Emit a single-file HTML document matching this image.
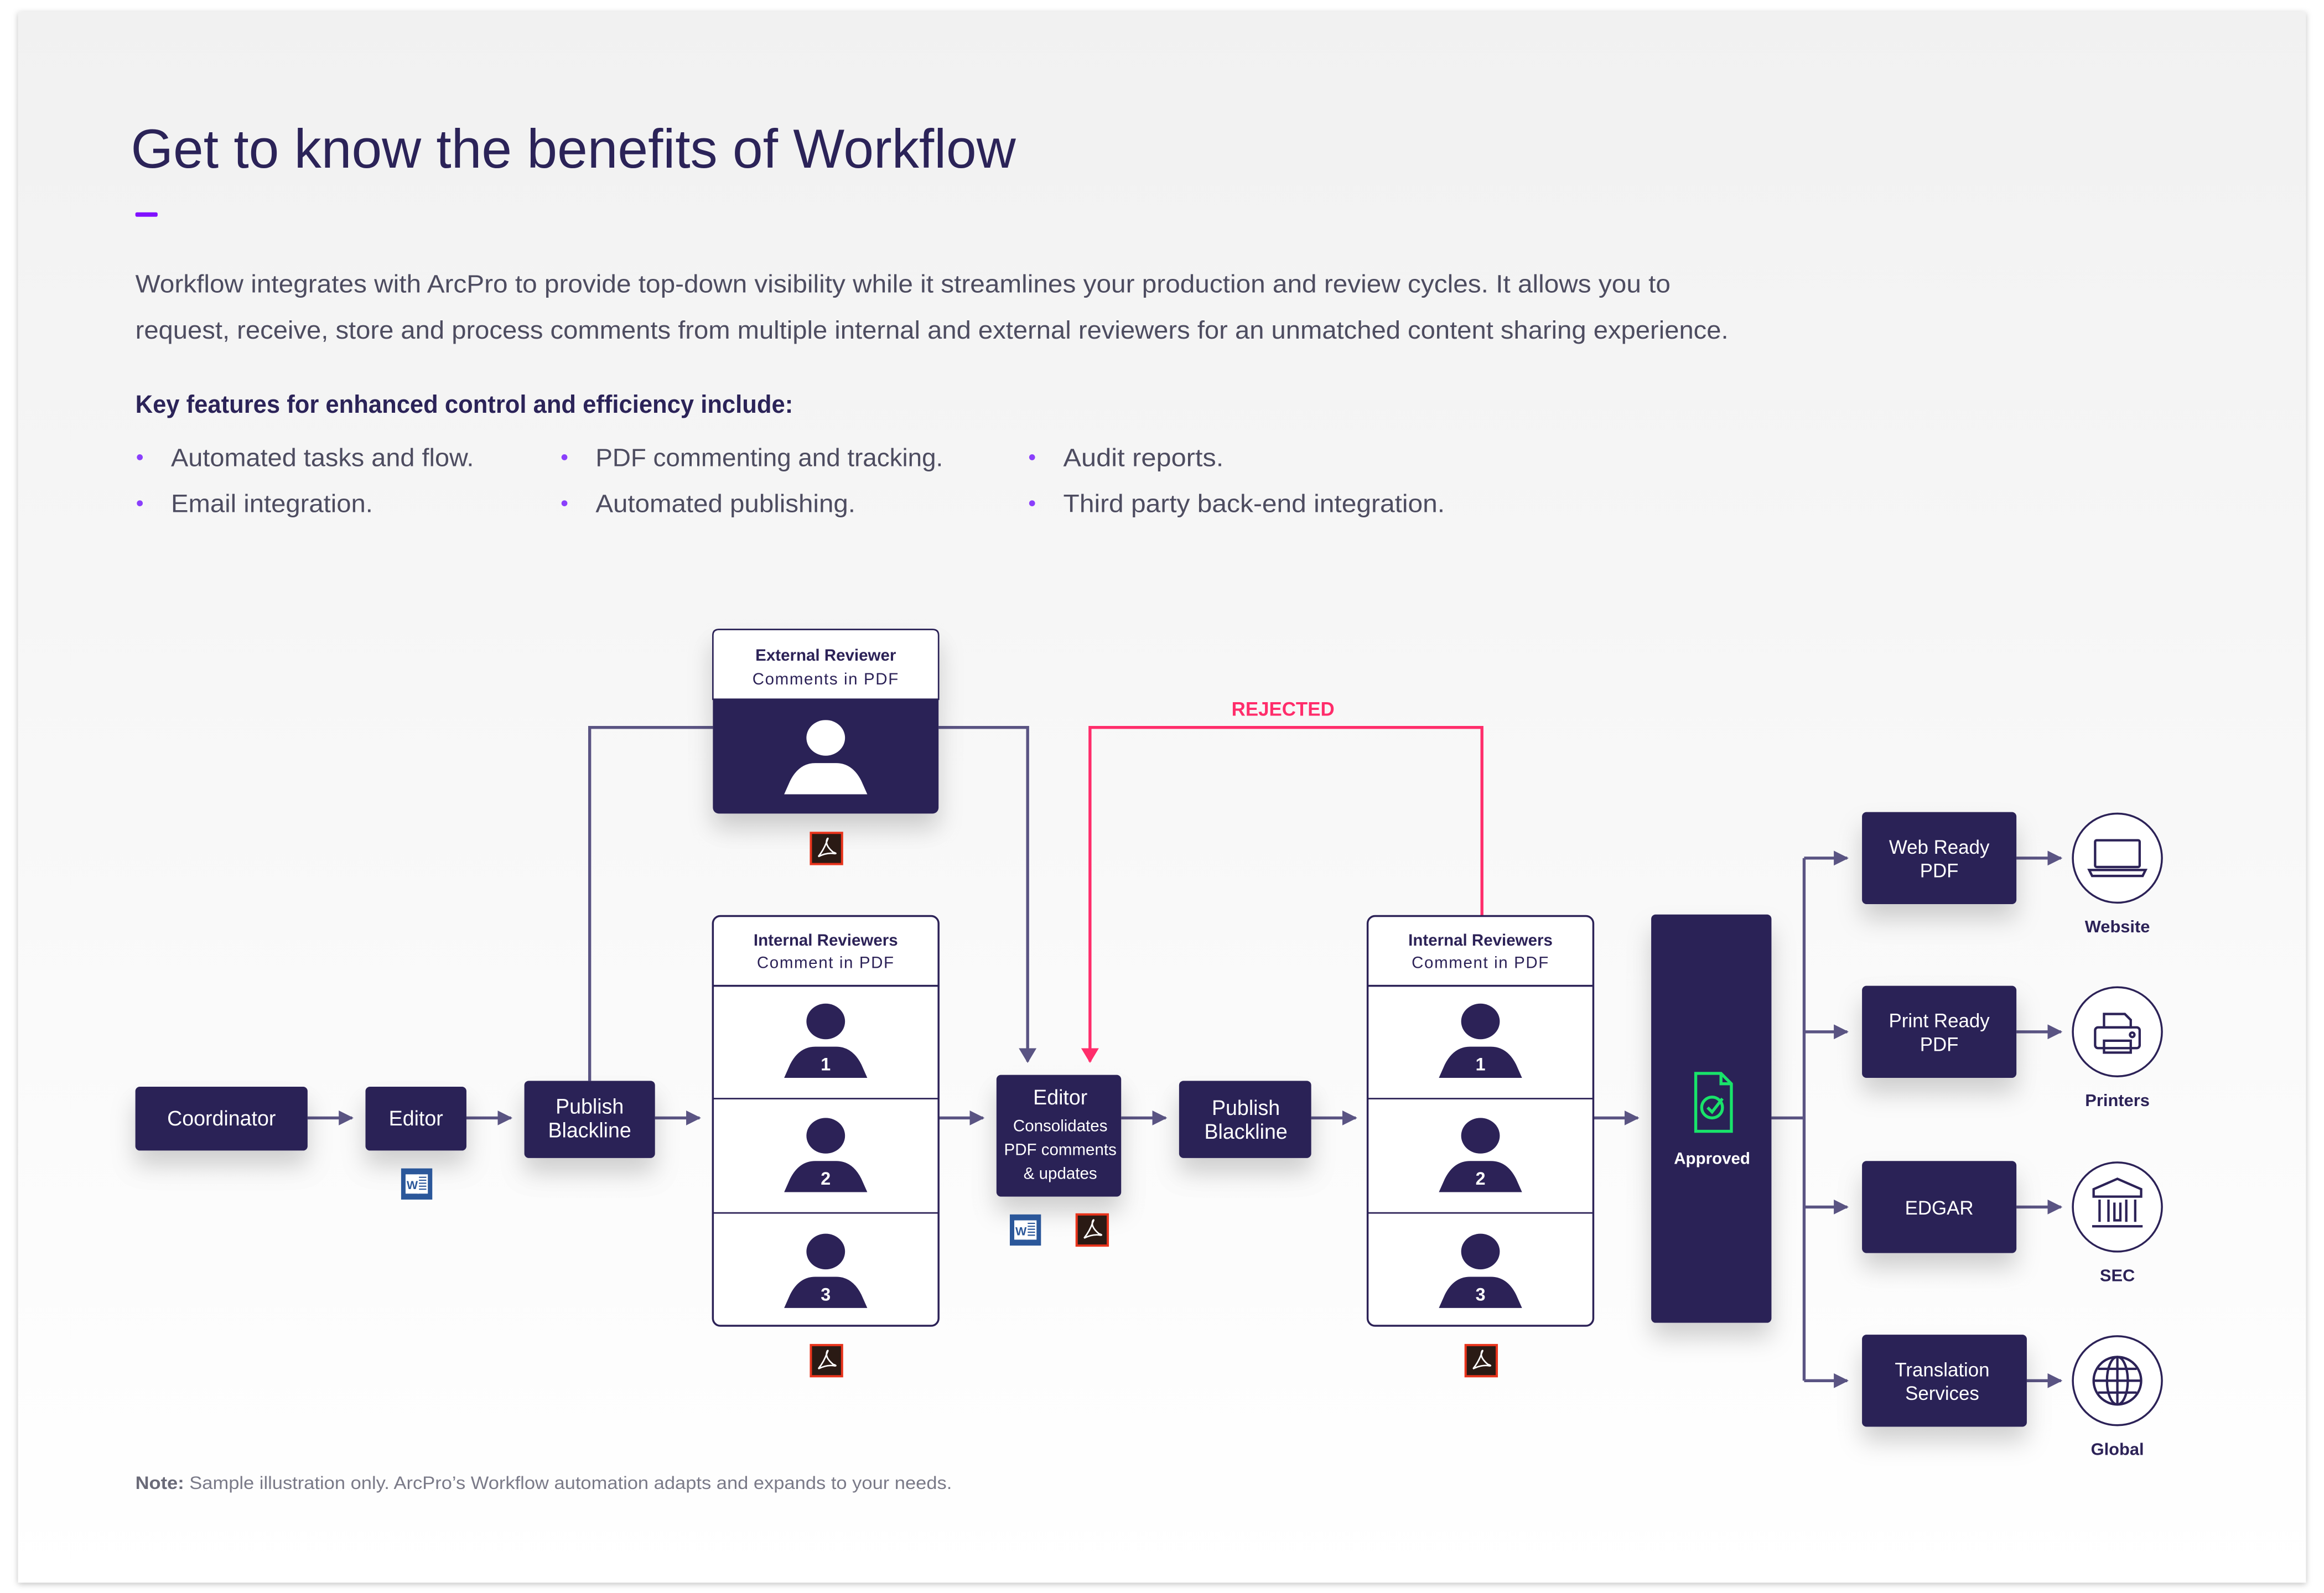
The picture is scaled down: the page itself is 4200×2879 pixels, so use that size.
<!DOCTYPE html>
<html><head><meta charset="utf-8"><style>
html,body{margin:0;padding:0;background:#fff;}
svg{display:block;}
</style></head><body>
<svg width="4200" height="2879" viewBox="0 0 1565 1073" xmlns="http://www.w3.org/2000/svg" font-family="'Liberation Sans', sans-serif">
<defs>
<linearGradient id="bg" x1="0" y1="0" x2="0" y2="1">
<stop offset="0" stop-color="#f1f1f1"/><stop offset="1" stop-color="#ffffff"/>
</linearGradient>
<filter id="card" x="-5%" y="-5%" width="110%" height="110%"><feDropShadow dx="0" dy="1" stdDeviation="2" flood-color="#000" flood-opacity="0.25"/></filter>
<filter id="sh" x="-40%" y="-40%" width="180%" height="200%"><feDropShadow dx="0" dy="10" stdDeviation="8" flood-color="#000" flood-opacity="0.18"/></filter>
<marker id="ar" markerWidth="10" markerHeight="10" refX="9" refY="5" orient="auto" markerUnits="userSpaceOnUse"><path d="M0,0 L10,5 L0,10 Z" fill="#5a5483"/></marker>
<marker id="arr" markerWidth="12" markerHeight="10" refX="6" refY="9" orient="0" markerUnits="userSpaceOnUse"><path d="M0,0 L12,0 L6,10 Z" fill="#ff2d6b"/></marker>
<marker id="ard" markerWidth="12" markerHeight="10" refX="6" refY="9" orient="0" markerUnits="userSpaceOnUse"><path d="M0,0 L12,0 L6,10 Z" fill="#5a5483"/></marker>
<g id="pdf"><rect x="0" y="0" width="21" height="21" fill="#2a1a14" stroke="#e8341c" stroke-width="1.5"/><path d="M5,16 Q9,11 11,5 Q12,3 11,4 Q9,8 15,13 Q18,14 16,14 Q11,13 5,16" fill="none" stroke="#fff" stroke-width="1"/></g>
<g id="word"><rect x="0" y="0" width="21" height="21" fill="#2b579a"/><rect x="11" y="4" width="7" height="13" fill="#fff"/><path d="M12,6h5M12,8h5M12,10h5M12,12h5M12,14h5" stroke="#2b579a" stroke-width="0.8"/><rect x="3" y="4" width="9" height="13" fill="#fff"/><text x="7.5" y="14" font-size="8" font-weight="bold" fill="#2b579a" text-anchor="middle">W</text></g>
<g id="person"><ellipse cx="0" cy="0" rx="13" ry="12" fill="#2c2257"/><path d="M-28,38 L-24,29 Q-18,17 -7,17 L7,17 Q18,17 24,29 L28,38 Z" fill="#2c2257"/></g>
</defs>
<rect width="1565" height="1073" fill="#fff"/>
<rect x="12" y="8" width="1541" height="1058" fill="url(#bg)" filter="url(#card)"/>

<text x="88" y="113" font-size="37" fill="#2b2358" textLength="596" lengthAdjust="spacingAndGlyphs">Get to know the benefits of Workflow</text>
<rect x="91" y="143" width="15" height="3" rx="1" fill="#8010ff"/>
<g font-size="17" fill="#4d4c60">
<text x="91" y="197" textLength="1034" lengthAdjust="spacingAndGlyphs">Workflow integrates with ArcPro to provide top-down visibility while it streamlines your production and review cycles. It allows you to</text>
<text x="91" y="228" textLength="1073" lengthAdjust="spacingAndGlyphs">request, receive, store and process comments from multiple internal and external reviewers for an unmatched content sharing experience.</text>
</g>
<text x="91" y="278" font-size="17" font-weight="bold" fill="#2b2358" textLength="443" lengthAdjust="spacingAndGlyphs">Key features for enhanced control and efficiency include:</text>
<g font-size="17" fill="#4d4c60">
<g fill="#8a3ffc"><circle cx="94" cy="308" r="2"/><circle cx="94" cy="339" r="2"/><circle cx="380" cy="308" r="2"/><circle cx="380" cy="339" r="2"/><circle cx="695" cy="308" r="2"/><circle cx="695" cy="339" r="2"/></g>
<text x="115" y="314" textLength="204" lengthAdjust="spacingAndGlyphs">Automated tasks and flow.</text>
<text x="115" y="345" textLength="136" lengthAdjust="spacingAndGlyphs">Email integration.</text>
<text x="401" y="314" textLength="234" lengthAdjust="spacingAndGlyphs">PDF commenting and tracking.</text>
<text x="401" y="345" textLength="175" lengthAdjust="spacingAndGlyphs">Automated publishing.</text>
<text x="716" y="314" textLength="108" lengthAdjust="spacingAndGlyphs">Audit reports.</text>
<text x="716" y="345" textLength="257" lengthAdjust="spacingAndGlyphs">Third party back-end integration.</text>
</g>

<g stroke="#5a5483" stroke-width="2" fill="none">
<line x1="207" y1="753" x2="237" y2="753" marker-end="url(#ar)"/>
<line x1="314" y1="753" x2="344" y2="753" marker-end="url(#ar)"/>
<line x1="441" y1="753" x2="471" y2="753" marker-end="url(#ar)"/>
<line x1="632" y1="753" x2="662" y2="753" marker-end="url(#ar)"/>
<line x1="755" y1="753" x2="785" y2="753" marker-end="url(#ar)"/>
<line x1="883" y1="753" x2="913" y2="753" marker-end="url(#ar)"/>
<line x1="1073" y1="753" x2="1103" y2="753" marker-end="url(#ar)"/>
<polyline points="397,728 397,490 480,490"/>
<polyline points="632,490 692,490 692,715" marker-end="url(#ard)"/>
<polyline points="1193,753 1215,753"/>
<line x1="1215" y1="578" x2="1215" y2="930"/>
<line x1="1215" y1="578" x2="1244" y2="578" marker-end="url(#ar)"/>
<line x1="1215" y1="695" x2="1244" y2="695" marker-end="url(#ar)"/>
<line x1="1215" y1="813" x2="1244" y2="813" marker-end="url(#ar)"/>
<line x1="1215" y1="930" x2="1244" y2="930" marker-end="url(#ar)"/>
<line x1="1358" y1="578" x2="1388" y2="578" marker-end="url(#ar)"/>
<line x1="1358" y1="695" x2="1388" y2="695" marker-end="url(#ar)"/>
<line x1="1358" y1="813" x2="1388" y2="813" marker-end="url(#ar)"/>
<line x1="1365" y1="930" x2="1388" y2="930" marker-end="url(#ar)"/>
</g>
<polyline points="998,617 998,490 734,490 734,715" stroke="#ff2d6b" stroke-width="2" fill="none" marker-end="url(#arr)"/>
<text x="864" y="482" font-size="13" font-weight="bold" fill="#ff2d6b" text-anchor="middle">REJECTED</text>

<g fill="#2c2257" filter="url(#sh)">
<rect x="91" y="732" width="116" height="43" rx="3"/>
<rect x="246" y="732" width="68" height="43" rx="3"/>
<rect x="353" y="728" width="88" height="52" rx="3"/>
<rect x="671" y="724" width="84" height="82" rx="3"/>
<rect x="794" y="728" width="89" height="52" rx="3"/>
<rect x="1112" y="616" width="81" height="275" rx="3"/>
<rect x="1254" y="547" width="104" height="62" rx="3"/>
<rect x="1254" y="664" width="104" height="62" rx="3"/>
<rect x="1254" y="782" width="104" height="62" rx="3"/>
<rect x="1254" y="899" width="111" height="62" rx="3"/>
</g>
<g fill="#fff" font-size="14" text-anchor="middle">
<text x="149" y="758">Coordinator</text>
<text x="280" y="758">Editor</text>
<text x="397" y="750">Publish</text><text x="397" y="766">Blackline</text>
<text x="839" y="751">Publish</text><text x="839" y="767">Blackline</text>
<text x="714" y="744">Editor</text>
<text x="714" y="762" font-size="11">Consolidates</text>
<text x="714" y="778" font-size="11">PDF comments</text>
<text x="714" y="794" font-size="11">&amp; updates</text>
<text x="1306" y="575" font-size="13">Web Ready</text><text x="1306" y="591" font-size="13">PDF</text>
<text x="1306" y="692" font-size="13">Print Ready</text><text x="1306" y="708" font-size="13">PDF</text>
<text x="1306" y="818" font-size="13">EDGAR</text>
<text x="1308" y="927" font-size="13">Translation</text><text x="1308" y="943" font-size="13">Services</text>
<text x="1153" y="784" font-size="11" font-weight="bold">Approved</text>
</g>
<g fill="none" stroke="#19e36a" stroke-width="2">
<path d="M1142,723 L1159,723 L1166,730 L1166,762 L1142,762 Z"/>
<path d="M1159,723 L1159,730 L1166,730"/>
<circle cx="1153" cy="746" r="7"/>
<path d="M1150,746 L1153,749 L1160,740"/>
</g>

<g filter="url(#sh)">
<rect x="480" y="424" width="152" height="124" rx="4" fill="#2c2257"/>
<path d="M484,424 L628,424 Q632,424 632,428 L632,471 L480,471 L480,428 Q480,424 484,424 Z" fill="#fff" stroke="#2c2257" stroke-width="1"/>
</g>
<text x="556" y="445" font-size="11" font-weight="bold" fill="#2c2257" text-anchor="middle">External Reviewer</text>
<text x="556" y="461" font-size="11" fill="#2c2257" text-anchor="middle" letter-spacing="0.6">Comments in PDF</text>
<ellipse cx="556" cy="497" rx="13" ry="12" fill="#fff"/>
<path d="M528,535 L532,526 Q538,514 549,514 L563,514 Q574,514 580,526 L584,535 Z" fill="#fff"/>
<use href="#pdf" x="546" y="561"/>

<g id="ir">
<rect x="480" y="617" width="152" height="276" rx="5" fill="#fff" stroke="#2c2257" stroke-width="1.3"/>
<line x1="480" y1="664" x2="632" y2="664" stroke="#2c2257" stroke-width="1.3"/>
<line x1="480" y1="740" x2="632" y2="740" stroke="#2c2257" stroke-width="1"/>
<line x1="480" y1="817" x2="632" y2="817" stroke="#2c2257" stroke-width="1"/>
<text x="556" y="637" font-size="11" font-weight="bold" fill="#2c2257" text-anchor="middle">Internal Reviewers</text>
<text x="556" y="652" font-size="11" fill="#2c2257" text-anchor="middle" letter-spacing="0.6">Comment in PDF</text>
<use href="#person" x="556" y="688"/>
<use href="#person" x="556" y="765"/>
<use href="#person" x="556" y="843"/>
<g fill="#fff" font-size="12" font-weight="bold" text-anchor="middle">
<text x="556" y="721">1</text><text x="556" y="798">2</text><text x="556" y="876">3</text>
</g>
<use href="#pdf" x="546" y="906"/>
</g>
<use href="#ir" x="441" y="0"/>

<use href="#word" x="270" y="787"/>
<use href="#word" x="680" y="818"/>
<use href="#pdf" x="725" y="818"/>

<g fill="#fff" stroke="#2c2257" stroke-width="1.3">
<circle cx="1426" cy="578" r="30"/>
<circle cx="1426" cy="695" r="30"/>
<circle cx="1426" cy="813" r="30"/>
<circle cx="1426" cy="930" r="30"/>
</g>
<g fill="none" stroke="#2c2257" stroke-width="1.6">
<rect x="1411" y="566" width="30" height="18" rx="1"/>
<path d="M1407,586 L1445,586 L1443,590 L1409,590 Z"/>
<path d="M1417,683 L1431,683 L1435,687 L1435,692 L1417,692 Z"/>
<rect x="1411" y="692" width="30" height="14" rx="2"/>
<rect x="1417" y="701" width="18" height="8"/>
<circle cx="1436" cy="697" r="1.5"/>
<path d="M1410,801 L1426,794 L1442,801 L1442,806 L1410,806 Z"/>
<path d="M1414,808 v15 M1420,808 v15 M1432,808 v15 M1438,808 v15 M1424,810 v12 h4 v-12"/>
<path d="M1409,826 L1443,826"/>
<circle cx="1426" cy="930" r="16"/>
<ellipse cx="1426" cy="930" rx="7" ry="16"/>
<path d="M1410,930 h32 M1413,922 h26 M1413,938 h26 M1426,914 v32"/>
</g>
<g fill="#2c2257" font-size="11.5" font-weight="bold" text-anchor="middle">
<text x="1426" y="628">Website</text>
<text x="1426" y="745">Printers</text>
<text x="1426" y="863">SEC</text>
<text x="1426" y="980">Global</text>
</g>

<text x="91" y="1003" font-size="12" fill="#7a7a88" textLength="550" lengthAdjust="spacingAndGlyphs"><tspan font-weight="bold" fill="#6a6a78">Note:</tspan> Sample illustration only. ArcPro’s Workflow automation adapts and expands to your needs.</text>
</svg>
</body></html>
